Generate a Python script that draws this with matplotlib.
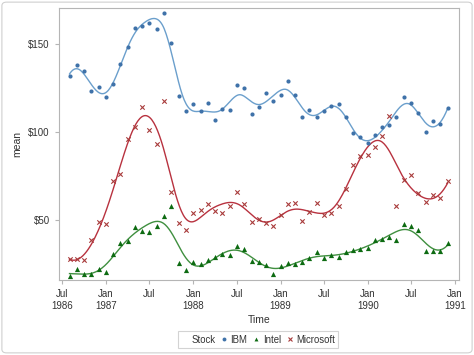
import matplotlib
matplotlib.use("Agg")
import matplotlib.pyplot as plt
import matplotlib.dates as mdates
from matplotlib.lines import Line2D
from matplotlib.patches import FancyBboxPatch
import numpy as np
import pandas as pd

# monthly values, Aug 1986 .. Dec 1990
dates = pd.date_range("1986-08-01", periods=53, freq="MS")

ibm = [131.8, 138.2, 134.7, 123.6, 125.9, 120.2, 127.6, 139.0, 148.3, 159.4, 160.6, 161.9, 158.7,
       168.0, 150.7, 120.5, 112.1, 116.3, 112.1, 117.0, 107.0, 113.1, 112.5, 127.0, 125.3, 110.4, 114.5,
       122.2, 118.0, 121.4, 129.3, 121.4, 108.7, 112.5, 108.7, 112.1, 115.0, 116.3, 108.7, 99.6, 97.2,
       94.1, 98.3, 103.2, 104.5, 108.7, 120.1, 116.8, 111.1, 100.3, 106.6, 104.9, 113.8]
intel = [18.2, 22.5, 19.3, 19.5, 22.2, 20.6, 31.0, 37.3, 38.2, 46.0, 43.9, 43.2, 46.6,
         52.6, 58.1, 25.6, 21.8, 26.3, 25.0, 27.8, 29.1, 30.7, 30.3, 35.6, 33.5, 27.2, 26.5,
         24.7, 19.6, 24.0, 25.9, 25.2, 26.1, 28.5, 31.8, 28.5, 30.3, 29.3, 31.8, 33.2, 34.0,
         34.1, 39.1, 39.7, 40.7, 39.1, 47.9, 46.8, 44.3, 32.7, 32.7, 32.7, 37.4]
msft = [28.2, 28.2, 27.6, 38.6, 49.2, 47.7, 72.5, 76.5, 96.2, 103.2, 114.5, 101.1, 93.5,
        117.8, 65.9, 48.6, 44.3, 54.3, 56.2, 59.3, 55.5, 54.3, 58.0, 66.3, 59.3, 49.2, 50.7,
        48.6, 46.9, 53.0, 59.3, 59.7, 49.6, 54.9, 59.7, 53.0, 54.3, 58.3, 67.8, 81.6, 86.5,
        86.9, 91.8, 97.9, 109.1, 58.3, 72.7, 75.6, 65.7, 60.4, 64.2, 62.5, 72.5]

stocks = ["IBM", "Intel", "Microsoft"]
marker_colors = ["#3f72a9", "#0d6b12", "#a83b3b"]
line_colors = ["#6b9fcc", "#3f8f3f", "#b8323f"]
markers = ["o", "^", "x"]
smooth = [0.1, 0.6, 0.5]   # penalty weights, tuned by eye


def bspline_basis(x, xl, xr, nseg, deg=3):
    dx = (xr - xl) / nseg
    knots = xl + dx * np.arange(-deg, nseg + deg + 1)
    B = ((x[:, None] >= knots[None, :-1]) & (x[:, None] < knots[None, 1:])).astype(float)
    for d in range(1, deg + 1):
        n = B.shape[1] - 1
        Bn = np.zeros((len(x), n))
        for j in range(n):
            Bn[:, j] = ((x - knots[j]) / (knots[j + d] - knots[j]) * B[:, j]
                        + (knots[j + d + 1] - x) / (knots[j + d + 1] - knots[j + 1]) * B[:, j + 1])
        B = Bn
    return B


def pspline(y, grid, lam, nseg=40):
    # penalized b-spline smoother
    x = np.arange(len(y), dtype=float)
    y = np.asarray(y)
    xl, xr = x.min(), x.max() + 1e-6
    B = bspline_basis(x, xl, xr, nseg)
    nb = B.shape[1]
    D = np.diff(np.eye(nb), 3, axis=0)
    coef = np.linalg.solve(B.T @ B + lam * D.T @ D, B.T @ y)
    return bspline_basis(np.clip(grid, xl, xr - 1e-9), xl, xr, nseg) @ coef


fig = plt.figure(figsize=(4.74, 3.55), dpi=100)
plt.rcParams["font.family"] = ["Liberation Sans", "DejaVu Sans"]
ax = fig.add_axes([0.124, 0.211, 0.845, 0.766])

grid = np.linspace(0, len(dates) - 1, 400)
t0 = mdates.date2num(dates[0])
tn = mdates.date2num(dates[-1])
grid_dates = t0 + grid / (len(dates) - 1) * (tn - t0)

for name, vals, mc, lc, mk, lam in zip(stocks, [ibm, intel, msft], marker_colors, line_colors, markers, smooth):
    ax.plot(grid_dates, pspline(vals, grid, lam), color=lc, lw=1.0, zorder=2)
    if mk == "x":
        ax.scatter(dates, vals, marker=mk, s=10, color=mc, linewidths=0.8, zorder=3)
    else:
        ax.scatter(dates, vals, marker=mk, s=9 if mk == "o" else 14, color=mc, linewidths=0, zorder=3)

ax.set_ylim(16.1, 170.6)
ax.set_xlim(pd.Timestamp("1986-06-17"), pd.Timestamp("1991-01-19"))
ax.set_yticks([50, 100, 150])
ax.set_yticklabels(["$50", "$100", "$150"])

tick_dates = pd.date_range("1986-07-01", "1991-01-01", freq="6MS")
ax.set_xticks(tick_dates)
labels = []
for i, d in enumerate(tick_dates):
    if d.month == 1:
        labels.append("Jan\n%d" % d.year)
    elif i == 0:
        labels.append("Jul\n%d" % d.year)
    else:
        labels.append("Jul")
ax.set_xticklabels(labels)

for s in ax.spines.values():
    s.set_color("#b5b5b5")
    s.set_linewidth(0.8)
ax.tick_params(colors="#b5b5b5", labelcolor="#333333", labelsize=7, length=3, width=0.8)
ax.set_xlabel("Time", fontsize=7.5, color="#333333", labelpad=3)
ax.set_ylabel("mean", fontsize=7.5, color="#333333", labelpad=4)

handles = [Line2D([], [], linestyle="none")]
for mc, mk in zip(marker_colors, markers):
    if mk == "x":
        handles.append(Line2D([], [], linestyle="none", marker=mk, color=mc, markersize=3, mew=0.8))
    else:
        handles.append(Line2D([], [], linestyle="none", marker=mk, color=mc, markersize=2.8, mew=0))
leg = fig.legend(handles, ["Stock"] + stocks, loc="center", bbox_to_anchor=(0.545, 0.043),
                 ncol=4, fontsize=6.9, frameon=True, fancybox=False, handlelength=0.6,
                 handletextpad=0.4, columnspacing=0.6, borderpad=0.35)
leg.get_frame().set_edgecolor("#c8c8c8")
leg.get_frame().set_linewidth(0.8)
for t in leg.get_texts():
    t.set_color("#333333")

fig.patches.append(FancyBboxPatch((0.004, 0.006), 0.992, 0.988, boxstyle="round,pad=0,rounding_size=0.01",
                                  transform=fig.transFigure, fill=False, edgecolor="#d0d0d0", lw=0.8))

fig.savefig("out.png", dpi=100)
